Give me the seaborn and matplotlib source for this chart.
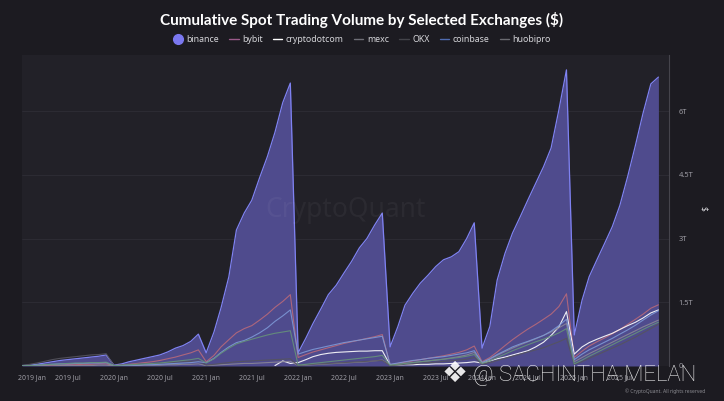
import numpy as np
import pandas as pd
import matplotlib
matplotlib.use("Agg")
import matplotlib.pyplot as plt
import matplotlib.dates as mdates
from matplotlib.lines import Line2D
from matplotlib.transforms import offset_copy
import seaborn as sns

# Cumulative spot trading volume per exchange, trillions of $, monthly, resets each January
months = pd.date_range("2019-01-01", periods=84, freq="MS")

binance = [0.01, 0.02, 0.04, 0.07, 0.10, 0.13, 0.15, 0.17, 0.19, 0.21, 0.23, 0.26,
           0.02, 0.05, 0.10, 0.14, 0.18, 0.22, 0.26, 0.33, 0.42, 0.48, 0.58, 0.75,
           0.31, 0.80, 1.37, 2.10, 3.20, 3.60, 3.90, 4.43, 4.93, 5.50, 6.20, 6.66,
           0.31, 0.66, 1.00, 1.34, 1.68, 1.90, 2.18, 2.46, 2.78, 3.00, 3.32, 3.60,
           0.45, 0.93, 1.43, 1.71, 1.95, 2.14, 2.34, 2.50, 2.57, 2.69, 3.00, 3.37,
           0.42, 0.93, 2.02, 2.65, 3.13, 3.52, 3.91, 4.30, 4.69, 5.13, 6.03, 6.97,
           0.73, 1.55, 2.10, 2.50, 2.88, 3.28, 3.78, 4.46, 5.20, 5.95, 6.64, 6.80]

bybit = [0.00, 0.00, 0.01, 0.01, 0.02, 0.02, 0.03, 0.03, 0.04, 0.04, 0.05, 0.05,
         0.01, 0.02, 0.04, 0.06, 0.08, 0.10, 0.13, 0.17, 0.21, 0.26, 0.31, 0.38,
         0.10, 0.25, 0.45, 0.62, 0.78, 0.88, 0.95, 1.08, 1.22, 1.38, 1.52, 1.68,
         0.20, 0.27, 0.33, 0.38, 0.43, 0.48, 0.53, 0.57, 0.61, 0.65, 0.69, 0.74,
         0.03, 0.06, 0.09, 0.12, 0.15, 0.18, 0.21, 0.24, 0.28, 0.32, 0.38, 0.47,
         0.10, 0.20, 0.33, 0.48, 0.62, 0.75, 0.87, 0.98, 1.10, 1.22, 1.40, 1.70,
         0.20, 0.35, 0.47, 0.57, 0.66, 0.76, 0.86, 0.98, 1.10, 1.22, 1.36, 1.44]

cryptodotcom = [np.nan] * 33 + [0.01, 0.12, 0.06,
                0.08, 0.15, 0.22, 0.27, 0.30, 0.32, 0.33, 0.34, 0.35, 0.35, 0.36, 0.36,
                0.02, 0.02, 0.03, 0.03, 0.04, 0.04, 0.05, 0.05, 0.06, 0.07, 0.08, 0.10,
                0.07, 0.12, 0.17, 0.21, 0.26, 0.31, 0.36, 0.45, 0.56, 0.72, 0.92, 1.28,
                0.28, 0.45, 0.55, 0.63, 0.70, 0.77, 0.86, 0.95, 1.03, 1.13, 1.25, 1.32]

mexc = [0.00, 0.00, 0.00, 0.00, 0.00, 0.01, 0.01, 0.01, 0.01, 0.01, 0.02, 0.02,
        0.00, 0.01, 0.01, 0.01, 0.02, 0.02, 0.02, 0.03, 0.03, 0.04, 0.04, 0.05,
        0.01, 0.02, 0.03, 0.04, 0.05, 0.06, 0.06, 0.07, 0.08, 0.09, 0.10, 0.11,
        0.01, 0.02, 0.03, 0.04, 0.05, 0.06, 0.07, 0.08, 0.09, 0.10, 0.12, 0.14,
        0.02, 0.04, 0.06, 0.08, 0.10, 0.12, 0.14, 0.16, 0.19, 0.22, 0.26, 0.32,
        0.08, 0.16, 0.25, 0.34, 0.42, 0.50, 0.57, 0.64, 0.72, 0.80, 0.90, 1.00,
        0.10, 0.20, 0.29, 0.38, 0.47, 0.56, 0.65, 0.74, 0.83, 0.92, 1.00, 1.08]

okx = [0.01, 0.04, 0.07, 0.11, 0.15, 0.18, 0.20, 0.22, 0.24, 0.26, 0.27, 0.29,
       0.01, 0.02, 0.03, 0.04, 0.05, 0.06, 0.07, 0.08, 0.09, 0.10, 0.11, 0.12,
       0.02, 0.04, 0.06, 0.08, 0.10, 0.11, 0.12, 0.13, 0.14, 0.15, 0.16, 0.17,
       0.01, 0.03, 0.04, 0.05, 0.06, 0.07, 0.08, 0.09, 0.10, 0.11, 0.12, 0.13,
       0.01, 0.02, 0.04, 0.05, 0.07, 0.08, 0.09, 0.11, 0.12, 0.14, 0.16, 0.20,
       0.04, 0.08, 0.13, 0.18, 0.23, 0.28, 0.33, 0.38, 0.43, 0.50, 0.57, 0.65,
       0.04, 0.10, 0.18, 0.26, 0.34, 0.42, 0.50, 0.59, 0.68, 0.78, 0.88, 0.98]

coinbase = [0.005, 0.01, 0.02, 0.03, 0.04, 0.05, 0.05, 0.06, 0.06, 0.07, 0.07, 0.08,
            0.01, 0.01, 0.02, 0.02, 0.03, 0.03, 0.04, 0.05, 0.06, 0.07, 0.08, 0.10,
            0.08, 0.18, 0.32, 0.45, 0.55, 0.60, 0.68, 0.78, 0.90, 1.05, 1.18, 1.32,
            0.28, 0.34, 0.39, 0.43, 0.47, 0.51, 0.55, 0.58, 0.61, 0.64, 0.67, 0.70,
            0.04, 0.07, 0.10, 0.13, 0.15, 0.18, 0.20, 0.22, 0.25, 0.28, 0.31, 0.36,
            0.08, 0.17, 0.27, 0.36, 0.45, 0.52, 0.58, 0.65, 0.72, 0.82, 0.95, 1.10,
            0.15, 0.28, 0.38, 0.47, 0.56, 0.65, 0.75, 0.85, 0.96, 1.08, 1.20, 1.30]

huobipro = [0.005, 0.01, 0.02, 0.03, 0.04, 0.05, 0.06, 0.07, 0.07, 0.08, 0.08, 0.09,
            0.01, 0.02, 0.03, 0.04, 0.05, 0.06, 0.07, 0.09, 0.11, 0.13, 0.15, 0.18,
            0.07, 0.17, 0.30, 0.42, 0.52, 0.58, 0.63, 0.68, 0.73, 0.77, 0.80, 0.83,
            0.02, 0.04, 0.06, 0.08, 0.10, 0.12, 0.14, 0.16, 0.18, 0.20, 0.22, 0.25,
            0.02, 0.04, 0.06, 0.08, 0.10, 0.12, 0.14, 0.16, 0.18, 0.20, 0.23, 0.27,
            0.06, 0.12, 0.20, 0.28, 0.36, 0.43, 0.50, 0.57, 0.63, 0.70, 0.78, 0.88,
            0.05, 0.14, 0.23, 0.32, 0.41, 0.50, 0.59, 0.68, 0.77, 0.86, 0.95, 1.03]

exchanges = ["bybit", "cryptodotcom", "mexc", "OKX", "coinbase", "huobipro"]
line_colors = {"bybit": "#b8697a", "cryptodotcom": "#ffffff", "mexc": "#8a8796",
               "OKX": "#55545e", "coinbase": "#7d98d6", "huobipro": "#66927a"}
legend_colors = {"bybit": "#9a5a8a", "cryptodotcom": "#ffffff", "mexc": "#6e6e76",
                 "OKX": "#44444a", "coinbase": "#4f6bb0", "huobipro": "#6a6a70"}
y_ticks = [0, 1.5, 3, 4.5, 6]
x_ticks = pd.date_range("2019-01-01", "2025-07-01", freq="6MS")

wide = pd.DataFrame({"binance": binance, "bybit": bybit, "cryptodotcom": cryptodotcom,
                     "mexc": mexc, "OKX": okx, "coinbase": coinbase, "huobipro": huobipro},
                    index=months)
wide.index.name = "date"
long = wide[exchanges].reset_index().melt(id_vars="date", var_name="exchange", value_name="volume")

# theme
sns.set_theme(style="dark")
plt.rcParams["font.family"] = ["Noto Sans", "DejaVu Sans"]

bg = "#1c1b21"
plot_bg = "#222128"
fig = plt.figure(figsize=(7.24, 4.01), dpi=100, facecolor=bg)
ax = fig.add_axes([22 / 724, 1 - 366 / 401, (669 - 22) / 724, (366 - 55) / 401])
ax.set_facecolor(plot_bg)

# binance area
ax.fill_between(wide.index, wide["binance"], color="#4f4b8d", linewidth=0, zorder=1)
sns.lineplot(x=wide.index, y=wide["binance"], ax=ax, color="#7f82f2", linewidth=0.9, zorder=2)

# the other exchanges
sns.lineplot(data=long, x="date", y="volume", hue="exchange", hue_order=exchanges,
             palette=line_colors, linewidth=0.8, alpha=0.9, ax=ax, legend=False, zorder=3)

ax.set_xlim(months[0], pd.Timestamp("2026-01-12"))
ax.set_ylim(0, 7.32)
ax.set_xlabel("")
ax.set_ylabel("")

ax.yaxis.tick_right()
ax.set_yticks(y_ticks)
ax.set_yticklabels(["0" if v == 0 else f"{v:g}T" for v in y_ticks])
ax.set_xticks(x_ticks)
ax.set_xticklabels([d.strftime("%Y %b") for d in x_ticks])
ax.tick_params(axis="both", length=0, labelsize=5.0, labelcolor="#9c9ba3")
ax.tick_params(axis="x", pad=6)
ax.tick_params(axis="y", pad=7, labelsize=5.4)
first = ax.get_xticklabels()[0]
first.set_transform(offset_copy(first.get_transform(), fig=fig, x=10, units="dots"))

ax.grid(axis="y", color="#2e2d36", linewidth=0.6)
ax.grid(axis="x", visible=False)
for side in ["left", "top", "bottom"]:
    ax.spines[side].set_visible(False)
ax.spines["right"].set_color("#45444c")
ax.spines["right"].set_linewidth(0.8)

fig.text(703 / 724, 1 - 208 / 401, "$", rotation=270, color="#d8d8dc", fontsize=6,
         ha="center", va="center")

# title and legend
fig.text(0.5, 1 - 20 / 401, "Cumulative Spot Trading Volume by Selected Exchanges ($)",
         color="white", fontsize=11, fontweight="bold", ha="center", va="center",
         family=["Lato", "DejaVu Sans"])
handles = [Line2D([], [], marker="o", linestyle="none", markersize=7,
                  markerfacecolor="#7b78f0", markeredgecolor="#7b78f0", label="binance")]
handles += [Line2D([], [], color=legend_colors[e], linewidth=1.0, label=e) for e in exchanges]
fig.legend(handles=handles, loc="center", bbox_to_anchor=(0.5, 1 - 40 / 401), ncol=7,
           frameon=False, fontsize=6.3, labelcolor="#d6d6da", handlelength=1.1,
           handletextpad=0.4, columnspacing=1.15)

# watermarks
ax.text(0.5, 0.5, "CryptoQuant", transform=ax.transAxes, fontsize=19, color="white",
        alpha=0.045, ha="center", va="center", zorder=5)
fig.text(705 / 724, 1 - 391 / 401, "\u00a9 CryptoQuant. All rights reserved",
         fontsize=3.6, color="#8a8a90", ha="right", va="center")
fig.text(455 / 724, 1 - 374 / 401, "\u2756", fontsize=21, color="white", alpha=0.9,
         ha="center", va="center", family="DejaVu Sans")
fig.text(473 / 724, 1 - 376 / 401, "@ SACHINTHA MELAN", fontsize=16, color="white",
         alpha=0.9, ha="left", va="center", family=["Roboto", "DejaVu Sans"],
         fontweight="light")

fig.savefig("out.png", dpi=100, facecolor=bg)
